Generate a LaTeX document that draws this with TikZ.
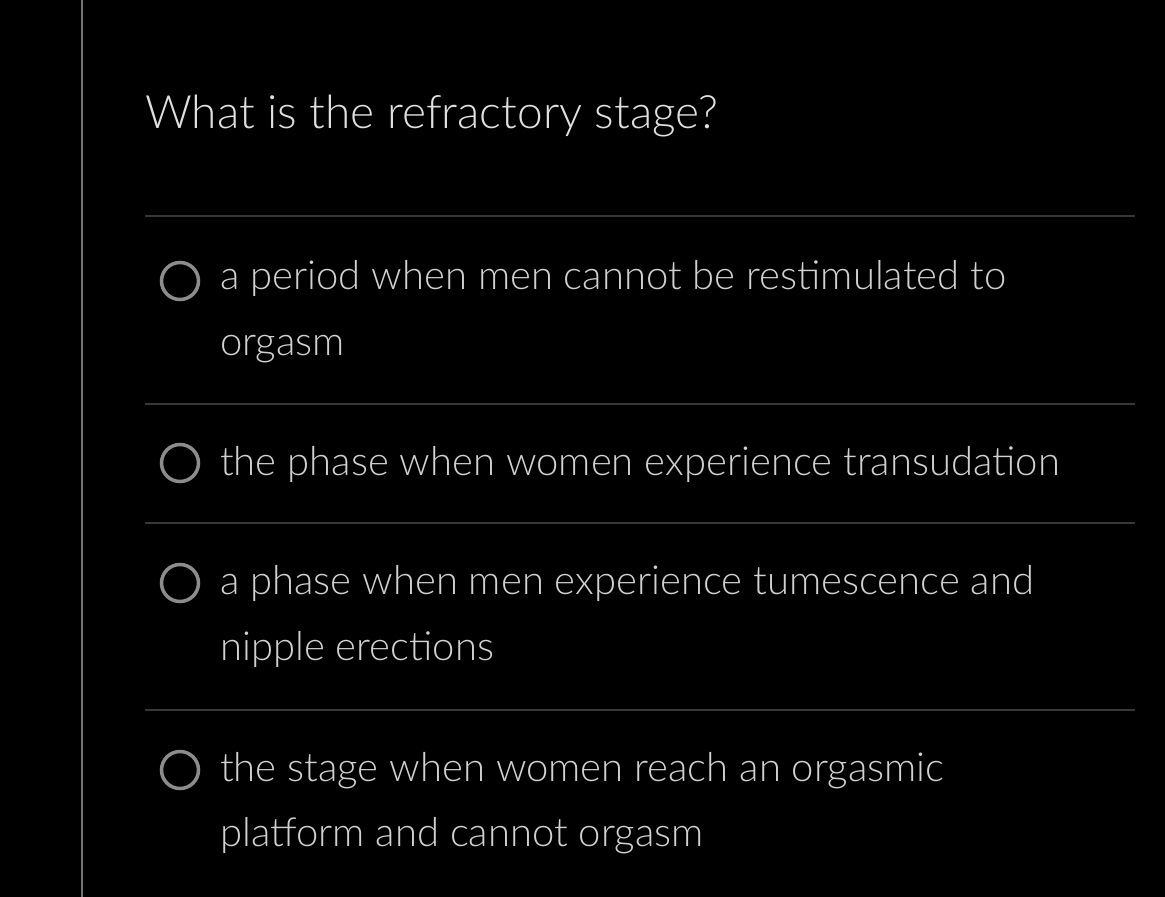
\documentclass[tikz,border=0pt]{standalone}
\usepackage{fontspec}
\setmainfont{Lato Light}
\begin{document}
\begin{tikzpicture}[x=1pt,y=-1pt,
  txt/.style={anchor=base west,inner sep=0pt,text=black!18,font=\fontsize{40}{48}\selectfont},
  sep/.style={draw=black!78,line width=2pt},
  radio/.style={draw=black!45,line width=3.5pt}]
\fill[black] (0,0) rectangle (1165,897);
\useasboundingbox (0,0) rectangle (1165,897);
\draw[draw=black!55,line width=2.5pt] (82,0) -- (82,897);
\node[txt,font=\fontsize{46}{54}\selectfont,text=black!12] (title) at (145,128) {What is the refractory stage?};
\draw[sep] (145,216) -- (1135,216);
\draw[sep] (145,404) -- (1135,404);
\draw[sep] (145,523) -- (1135,523);
\draw[sep] (145,710) -- (1135,710);
\draw[radio] (180,281) circle (18.5);
\draw[radio] (180,463) circle (18.5);
\draw[radio] (180,583) circle (18.5);
\draw[radio] (180,770) circle (18.5);
\node[txt] (a1) at (220,289) {a period when men cannot be restimulated to};
\node[txt] (a2) at (220,355) {orgasm};
\node[txt] (b1) at (220,475) {the phase when women experience transudation};
\node[txt] (c1) at (220,594) {a phase when men experience tumescence and};
\node[txt] (c2) at (220,660) {nipple erections};
\node[txt] (d1) at (220,781) {the stage when women reach an orgasmic};
\node[txt] (d2) at (220,846) {platform and cannot orgasm};
\end{tikzpicture}
\end{document}
